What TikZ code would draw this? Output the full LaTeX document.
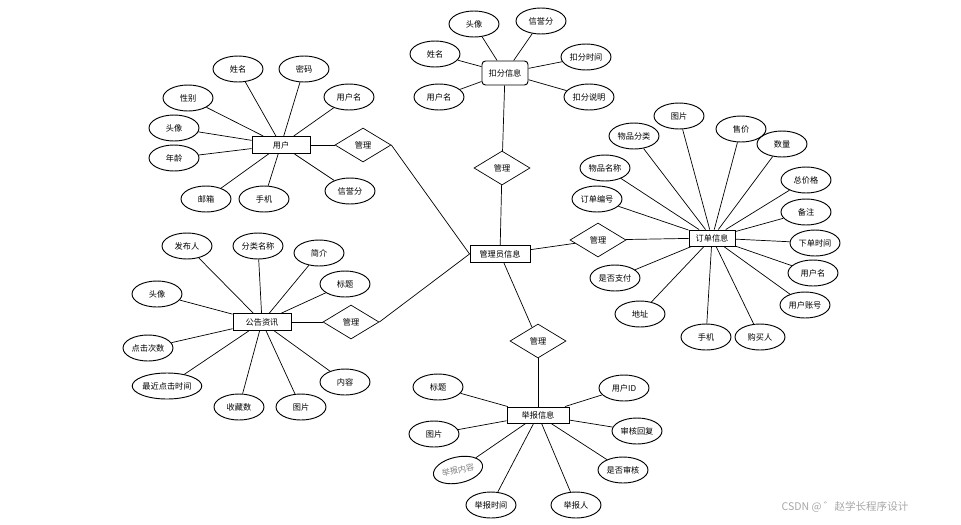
\documentclass[tikz,border=0pt]{standalone}
\usepackage{fontspec}
\setmainfont{Noto Sans CJK SC}
\usetikzlibrary{shapes.geometric}
\begin{document}
\begin{tikzpicture}[x=0.03cm,y=-0.03cm,
  every node/.style={font=\fontsize{7}{8}\selectfont},
  attr/.style={ellipse,draw,thick,minimum width=50*0.03cm,minimum height=26*0.03cm,inner sep=0pt},
  en/.style={rectangle,draw,thick,minimum width=58*0.03cm,minimum height=17*0.03cm,inner sep=1pt},
  rel/.style={diamond,draw,aspect=1.6,minimum width=56*0.03cm,minimum height=34*0.03cm,inner sep=0pt},
  every path/.style={line width=0.6pt}]
\useasboundingbox (0,0) rectangle (961,524);
% central
\node[en,minimum width=60*0.03cm] (adm) at (500,254) {管理员信息};
% user
\node[en] (u) at (281,145) {用户};
\foreach \n/\t/\x/\y in {u1/姓名/238/69,u2/密码/304/69,u3/用户名/349/97,u4/性别/188/98,u5/头像/174/128,u6/年龄/174/158,u7/邮箱/206/199,u8/手机/264/199,u9/信誉分/350/191}
  {\node[attr] (\n) at (\x,\y) {\t}; \draw (\n) -- (u);}
\node[rel] (ru) at (363,145) {管理};
\draw (u) -- (ru); \draw (ru.east) -- (adm.west);
% kou fen
\node[en,rounded corners=3pt,minimum width=46*0.03cm,minimum height=24*0.03cm] (k) at (505,73) {扣分信息};
\foreach \n/\t/\x/\y in {k1/头像/474/24,k2/信誉分/541/21,k3/姓名/435/54,k4/扣分时间/586/57,k5/用户名/439/97,k6/扣分说明/589/97}
  {\node[attr] (\n) at (\x,\y) {\t}; \draw (\n) -- (k);}
\node[rel] (rk) at (502,168) {管理};
\draw (k) -- (rk); \draw (rk) -- (adm);
% order
\node[en,minimum width=46*0.03cm,minimum height=16*0.03cm] (o) at (712,238) {订单信息};
\foreach \n/\t/\x/\y in {o1/图片/679/116,o2/售价/741/129,o3/数量/782/144,o4/物品分类/634/136,o5/物品名称/605/168,o6/总价格/806/180,o7/订单编号/597/199,o8/备注/806/212,o9/下单时间/815/243,o10/用户名/813/273,o11/用户账号/805/305,o12/是否支付/615/278,o13/地址/640/314,o14/手机/706/337,o15/购买人/760/337}
  {\node[attr] (\n) at (\x,\y) {\t}; \draw (\n) -- (o);}
\node[rel] (ro) at (598,240) {管理};
\draw (adm) -- (ro); \draw (ro) -- (o);
% notice
\node[en] (g) at (262,322) {公告资讯};
\foreach \n/\t/\x/\y in {g1/发布人/187/246,g2/分类名称/258/246,g3/简介/319/253,g4/标题/345/284,g5/头像/157/294,g6/点击次数/148/348,g7/最近点击时间/167/386,g8/收藏数/239/407,g9/图片/301/407,g10/内容/345/382}
  {\node[attr] (\n) at (\x,\y) {\t}; \draw (\n) -- (g);}
\node[rel] (rg) at (351,322) {管理};
\draw (g) -- (rg); \draw (rg.east) -- (adm.west);
% report
\node[en,minimum width=62*0.03cm,minimum height=16*0.03cm] (j) at (538,415) {举报信息};
\foreach \n/\t/\x/\y in {j1/标题/438/387,j2/图片/434/434,j4/举报时间/491/505,j5/举报人/576/505,j6/是否审核/623/470,j7/审核回复/637/431,j8/用户ID/624/388}
  {\node[attr] (\n) at (\x,\y) {\t}; \draw (\n) -- (j);}
\node[attr,text=gray,rotate=12] (j3) at (458,470) {举报内容};
\draw (j3) -- (j);
\node[rel] (rj) at (538,341) {管理};
\draw (adm) -- (rj); \draw (rj) -- (j);
\node[text=gray!70,font=\fontsize{9}{10}\selectfont] (wm) at (845,507) {CSDN @ ゛赵学长程序设计};
\end{tikzpicture}
\end{document}
